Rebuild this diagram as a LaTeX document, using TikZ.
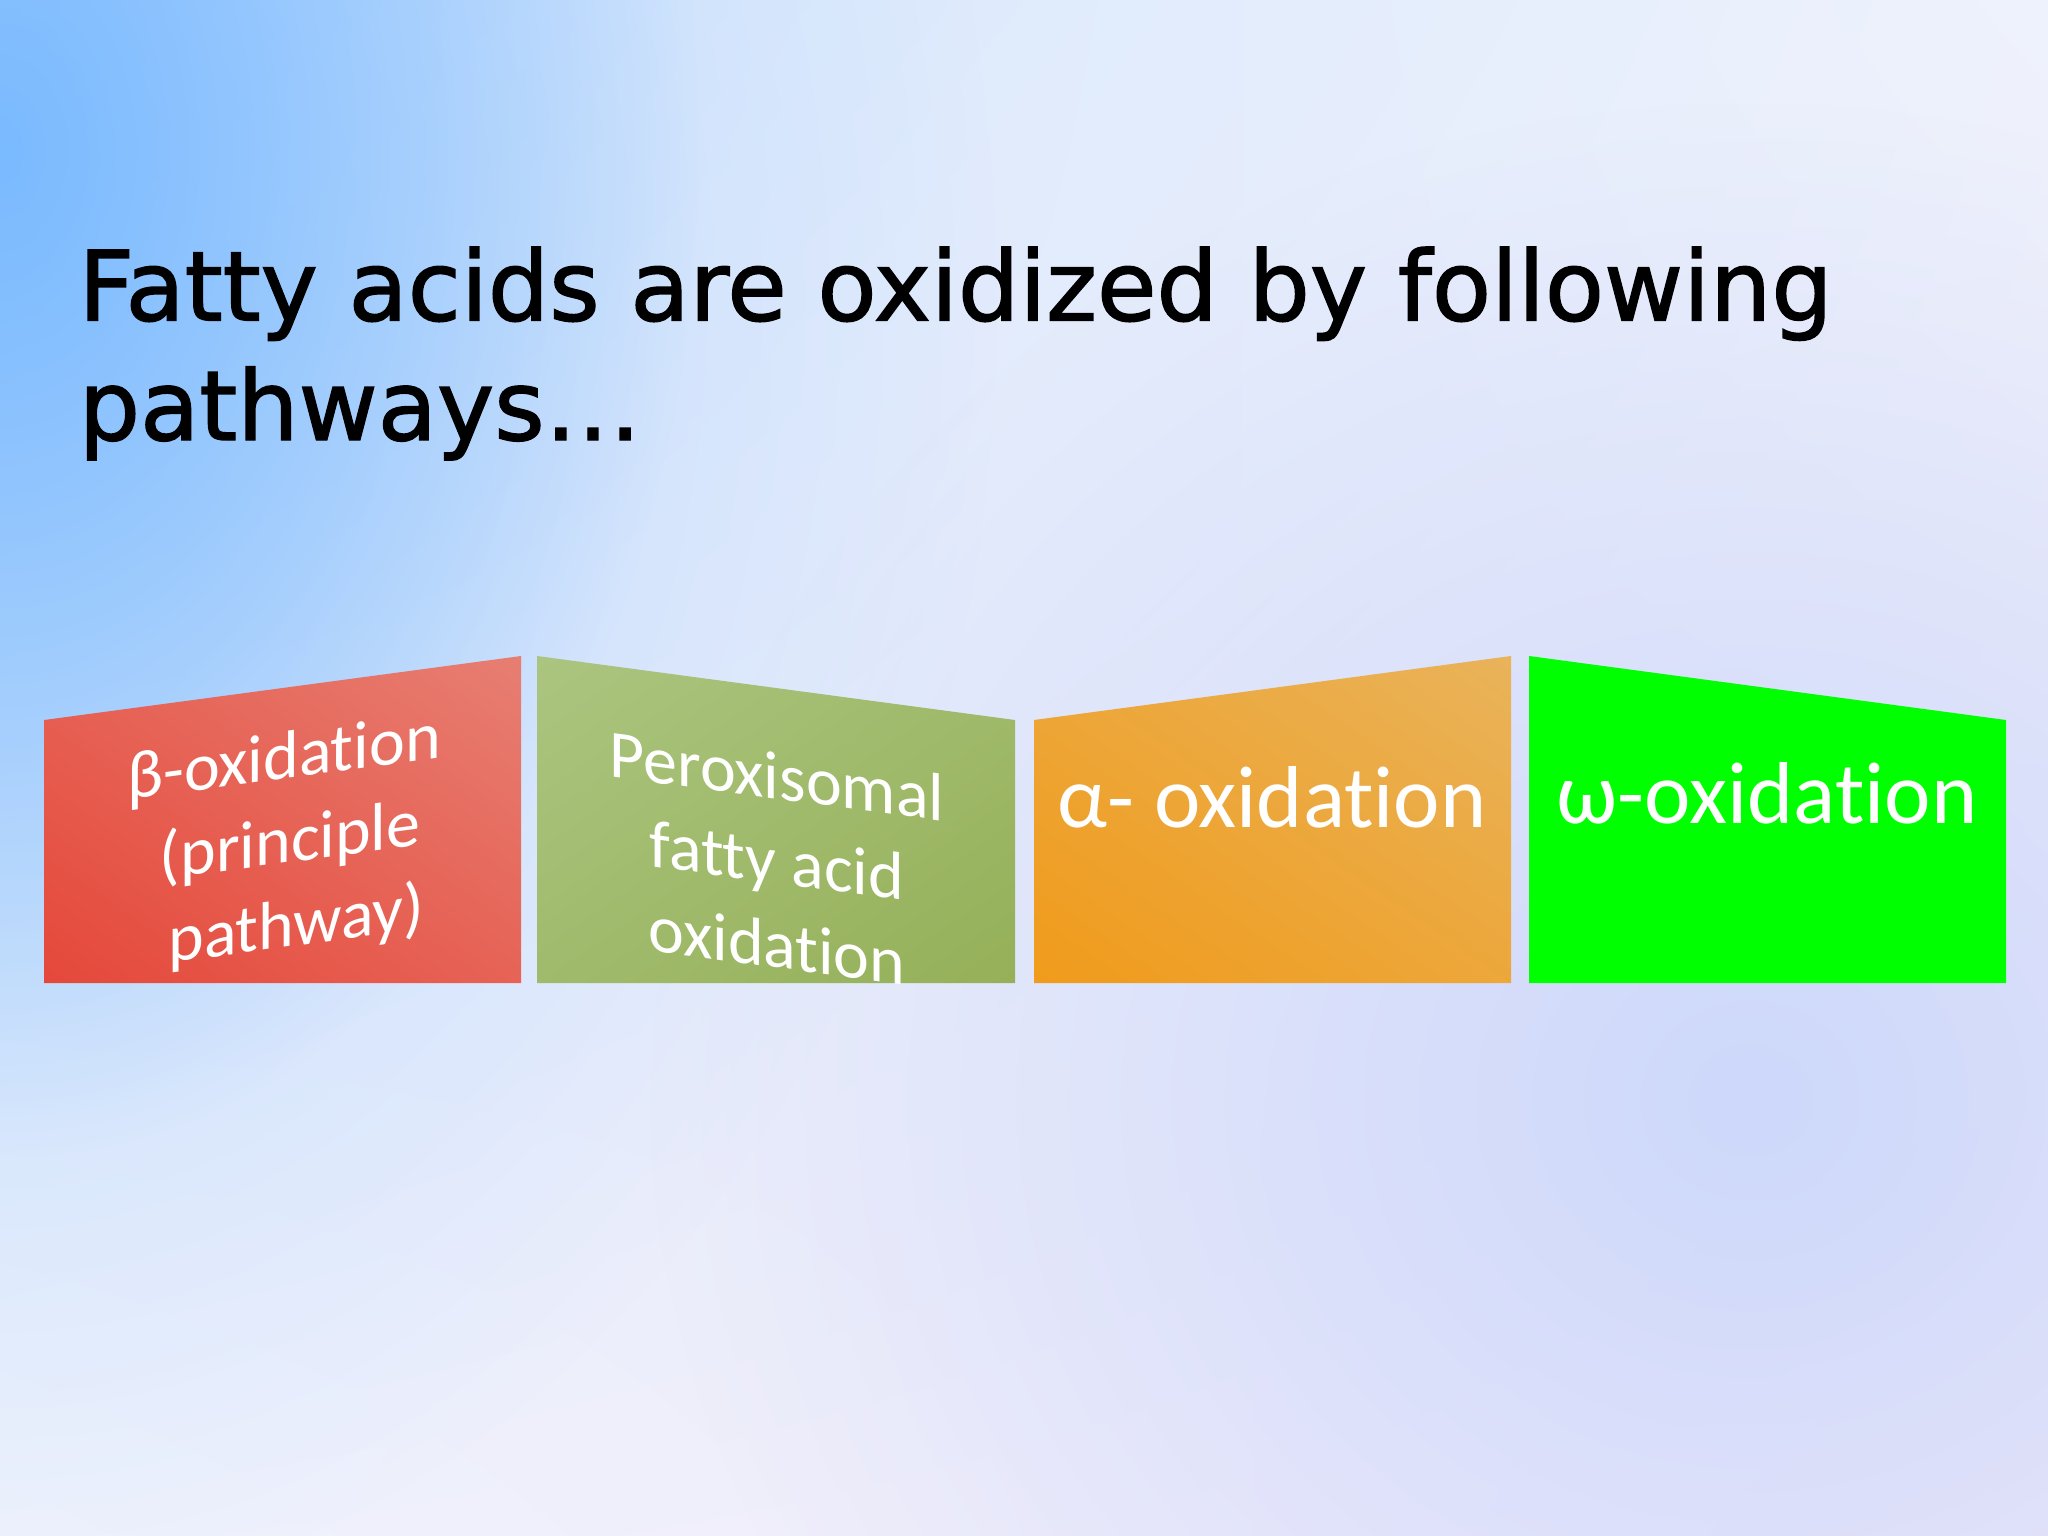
\documentclass[tikz,border=0pt]{standalone}
\usepackage{fontspec}
\setmainfont{Carlito}[Ligatures={NoCommon}]
\newfontfamily\titulofont{DejaVu Sans}[FakeBold=1.5]
\usepackage{xcolor}
\definecolor{azulfondo}{RGB}{122,186,255}
\definecolor{clarofondo}{RGB}{238,242,252}
\definecolor{lilafondo}{RGB}{205,216,250}
\definecolor{rosafondo}{RGB}{243,233,249}
\definecolor{rojoA}{RGB}{229,72,58}
\definecolor{rojoB}{RGB}{231,126,114}
\definecolor{verdeA}{RGB}{171,197,128}
\definecolor{verdeB}{RGB}{149,176,88}
\definecolor{naranjaA}{RGB}{240,155,27}
\definecolor{naranjaB}{RGB}{233,179,90}
\definecolor{verdeW}{RGB}{0,255,0}
\usetikzlibrary{shadings, fadings}
\tikzfading[name=mancha, inner color=transparent!0, outer color=transparent!100]

\begin{document}
\begin{tikzpicture}[x=0.01cm, y=-0.01cm,
    textocaja/.style={text=white, align=center, font=\fontsize{19.3}{24}\selectfont},
    textogrande/.style={text=white, font=\fontsize{25}{30}\selectfont}]
            \useasboundingbox (0,0) rectangle (2048,1536);

            % Fondo
            \shade[upper left=clarofondo!75!azulfondo, upper right=clarofondo,
                   lower left=clarofondo, lower right=rosafondo] (0,0) rectangle (2048,1536);
            \fill[azulfondo, path fading=mancha, opacity=0.35] (0,300) ellipse (1000 and 1300);
            \fill[azulfondo, path fading=mancha] (0,150) ellipse (700 and 1000);
            \fill[lilafondo, path fading=mancha] (1750,1100) ellipse (1100 and 1000);

            % Titulo
            \node[anchor=base west, inner sep=0pt, align=left,
                  font=\titulofont\fontsize{27.5}{34}\selectfont] (titulo) at (78,440)
                {Fatty acids are oxidized by following\\pathways…};

            % Caja 1
            \shade[upper right=rojoB, lower left=rojoA, upper left=rojoA!50!rojoB, lower right=rojoA!50!rojoB]
                (44,720) -- (521,656) -- (521,983) -- (44,983) -- cycle;
            \node[textocaja, yslant=0.134] (beta) at (284,845) {β-oxidation\\\hspace{3.5pt}(principle\\\hspace{7pt}pathway)};

            % Caja 2
            \shade[upper left=verdeA, lower right=verdeB, upper right=verdeA!50!verdeB, lower left=verdeA!50!verdeB]
                (537,656) -- (1015,720) -- (1015,983) -- (537,983) -- cycle;
            \node[textocaja, yslant=-0.134] (perox) at (777,860) {Peroxisomal\\fatty acid\\oxidation};

            % Caja 3
            \shade[upper right=naranjaB, lower left=naranjaA, upper left=naranjaA!50!naranjaB, lower right=naranjaA!50!naranjaB]
                (1034,720) -- (1511,656) -- (1511,983) -- (1034,983) -- cycle;
            \node[textogrande] (alfa) at (1272,797) {α- oxidation};

            % Caja 4
            \fill[verdeW] (1529,656) -- (2006,720) -- (2006,983) -- (1529,983) -- cycle;
            \node[textogrande] (omega) at (1767,793) {ω-oxidation};
        \end{tikzpicture}
\end{document}
